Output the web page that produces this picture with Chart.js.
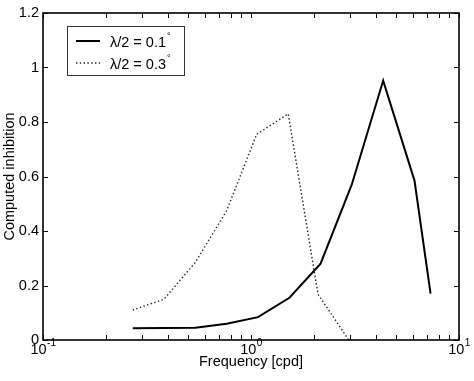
<!DOCTYPE html>
<html>
<head>
<meta charset="utf-8">
<script src="https://cdn.jsdelivr.net/npm/chart.js@4"></script>
<style>
  html, body { margin: 0; padding: 0; background: #fff; }
  #wrap { width: 474px; height: 381px; }
</style>
</head>
<body>
<div id="wrap"><canvas id="chart" width="474" height="381"></canvas></div>
<script>
// lambda/2 = 0.1 deg (solid)
var freqNarrow = [0.27, 0.382, 0.54, 0.764, 1.08, 1.53, 2.16, 3.05, 4.32, 6.11, 7.3];
var inhibNarrow = [0.043, 0.044, 0.045, 0.06, 0.084, 0.155, 0.28, 0.57, 0.952, 0.585, 0.17];
// lambda/2 = 0.3 deg (dotted)
var freqWide = [0.27, 0.382, 0.54, 0.764, 1.065, 1.51, 2.1, 2.95];
var inhibWide = [0.11, 0.15, 0.285, 0.475, 0.755, 0.83, 0.168, 0.0];

var seriesNames = ['\u03bb/2 = 0.1', '\u03bb/2 = 0.3'];
var yTicks = [0, 0.2, 0.4, 0.6, 0.8, 1, 1.2];
var xDecades = [0.1, 1, 10];
var xExponents = ['-1', '0', '1'];

var FONT = '"Liberation Sans", Arial, Helvetica, sans-serif';
Chart.defaults.font.family = FONT;
Chart.defaults.color = '#000';

function pts(xs, ys) {
    return xs.map(function (x, i) { return { x: x, y: ys[i] }; });
}

// box, inward ticks, x tick labels with exponents and the legend
var matlabFrame = {
    id: 'matlabFrame',
    afterDraw: function (chart) {
        var ctx = chart.ctx;
        var a = chart.chartArea;
        var xs = chart.scales.x;
        var ys = chart.scales.y;
        ctx.save();
        ctx.strokeStyle = '#000';
        ctx.lineWidth = 1;
        ctx.beginPath();
        xDecades.forEach(function (d, i) {
            var ks = i < xDecades.length - 1 ? [1, 2, 3, 4, 5, 6, 7, 8, 9] : [1];
            ks.forEach(function (k) {
                var px = Math.round(xs.getPixelForValue(d * k)) + 0.5;
                ctx.moveTo(px, a.bottom); ctx.lineTo(px, a.bottom - 5);
                ctx.moveTo(px, a.top); ctx.lineTo(px, a.top + 5);
            });
        });
        yTicks.forEach(function (v) {
            var py = Math.round(ys.getPixelForValue(v)) + 0.5;
            ctx.moveTo(a.left, py); ctx.lineTo(a.left + 5, py);
            ctx.moveTo(a.right, py); ctx.lineTo(a.right - 5, py);
        });
        ctx.stroke();

        ctx.lineWidth = 1.6;
        ctx.strokeRect(a.left, a.top, a.right - a.left, a.bottom - a.top);

        // x tick labels 10^n
        ctx.fillStyle = '#000';
        ctx.textBaseline = 'alphabetic';
        ctx.textAlign = 'left';
        xDecades.forEach(function (d, i) {
            var px = xs.getPixelForValue(d);
            ctx.font = '14.5px ' + FONT;
            var w1 = ctx.measureText('10').width;
            ctx.font = '10px ' + FONT;
            var w2 = ctx.measureText(xExponents[i]).width;
            var x0 = px - (w1 + w2) / 2;
            ctx.font = '14.5px ' + FONT;
            ctx.fillText('10', x0, 353.5);
            ctx.font = '10px ' + FONT;
            ctx.fillText(xExponents[i], x0 + w1 + 0.5, 345.5);
        });

        // legend
        var bx = 67.5, by = 26.5, bw = 117, bh = 49;
        ctx.fillStyle = '#fff';
        ctx.fillRect(bx, by, bw, bh);
        ctx.strokeStyle = '#333';
        ctx.lineWidth = 1;
        ctx.strokeRect(bx, by, bw, bh);
        var rows = [41, 63];
        chart.data.datasets.forEach(function (ds, i) {
            ctx.save();
            ctx.strokeStyle = ds.borderColor;
            ctx.lineWidth = ds.borderWidth;
            ctx.setLineDash(ds.borderDash || []);
            ctx.beginPath();
            ctx.moveTo(76, rows[i]);
            ctx.lineTo(100, rows[i]);
            ctx.stroke();
            ctx.restore();
            ctx.fillStyle = '#000';
            ctx.font = '14.5px ' + FONT;
            ctx.textBaseline = 'middle';
            ctx.fillText(ds.label, 110, rows[i] + 1.5);
            var w = ctx.measureText(ds.label).width;
            ctx.font = '9px ' + FONT;
            ctx.fillText('\u00b0', 110 + w + 1, rows[i] - 4);
        });
        ctx.restore();
    }
};

var config = {
    type: 'line',
    data: {
        datasets: [{
            label: seriesNames[0],
            data: pts(freqNarrow, inhibNarrow),
            borderColor: '#000',
            borderWidth: 2,
            pointRadius: 0,
            tension: 0,
            fill: false
        }, {
            label: seriesNames[1],
            data: pts(freqWide, inhibWide),
            borderColor: '#222',
            borderWidth: 1.4,
            borderDash: [1.4, 2.4],
            pointRadius: 0,
            tension: 0,
            fill: false
        }]
    },
    options: {
        responsive: false,
        animation: false,
        layout: {
            padding: { top: 13, right: 15, left: 0, bottom: 0 }
        },
        plugins: {
            legend: { display: false },
            tooltip: { enabled: false }
        },
        scales: {
            x: {
                type: 'logarithmic',
                min: 0.1,
                max: 10,
                grid: { display: false, drawTicks: false },
                border: { display: false },
                ticks: { display: false },
                title: {
                    display: true,
                    text: 'Frequency [cpd]',
                    color: '#000',
                    font: { size: 14.5 },
                    padding: { top: 0, bottom: 10 }
                },
                afterFit: function (s) { s.height = 41; }
            },
            y: {
                min: 0,
                max: 1.2,
                grid: { display: false, drawTicks: false },
                border: { display: false },
                afterBuildTicks: function (s) {
                    s.ticks = yTicks.map(function (v) { return { value: v }; });
                },
                ticks: {
                    color: '#000',
                    padding: 4,
                    font: { size: 14.5 },
                    callback: function (v) { return String(v); }
                },
                title: {
                    display: true,
                    text: 'Computed inhibition',
                    color: '#000',
                    font: { size: 14.5 },
                    padding: { top: 1, bottom: 0 }
                },
                afterFit: function (s) { s.width = 43; }
            }
        }
    },
    plugins: [matlabFrame]
};

window.onload = function () {
    var ctx = document.getElementById('chart').getContext('2d');
    window.myChart = new Chart(ctx, config);
};
</script>
</body>
</html>
